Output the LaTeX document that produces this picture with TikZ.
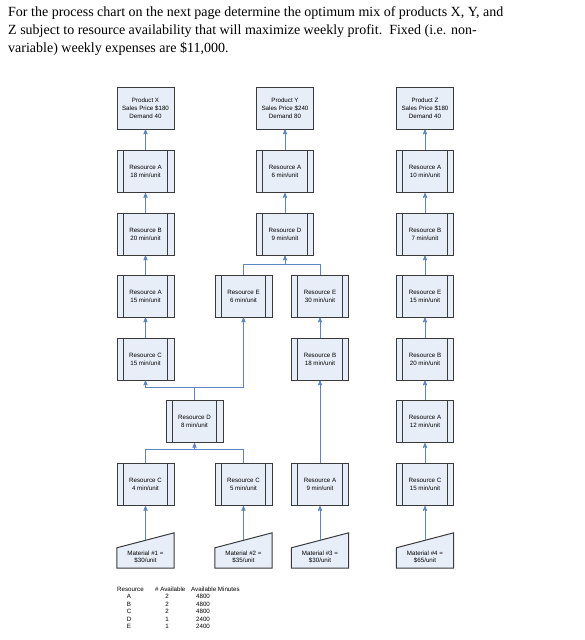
\documentclass[tikz,border=0pt]{standalone}
\usepackage{fontspec}
\setmainfont{Liberation Serif}
\setsansfont{Liberation Sans}
\usetikzlibrary{arrows,calc,backgrounds,positioning}
\tikzset{>=angle 60}

\definecolor{boxfill}{HTML}{E8EEF8}
\definecolor{boxedge}{HTML}{3A3A3A}
\definecolor{flowblue}{HTML}{5B86C5}
\newcommand{\boxfont}{\sffamily\fontsize{6.2}{7.8}\selectfont}

\begin{document}
\begin{tikzpicture}[
        x=1pt, y=-1pt,
        >=stealth',
        flow/.style = {draw=flowblue, ->, line width=0.8pt},
        junc/.style = {draw=flowblue, line width=0.8pt},
        matflow/.style = {flow, shorten <=5.5pt},
        prod/.style = {draw=boxedge, fill=boxfill, line width=1pt, rectangle,
                       minimum width=57pt, minimum height=42pt, inner sep=0pt,
                       align=center, font=\boxfont},
        res/.style = {prod},
        bar/.style = {draw=boxedge, line width=0.8pt},
        mat/.style = {rectangle, minimum width=57pt, minimum height=22pt,
                      inner sep=0pt, align=center, font=\boxfont},
        para/.style = {anchor=base west, inner sep=0pt, font=\fontsize{14}{18}\selectfont},
        tab/.style = {inner sep=0pt, font=\boxfont}]

    \useasboundingbox (0,0) rectangle (584,640);

    % columns
    \def\cx{145.5}
    \def\cd{194.5}
    \def\ce{243.5}
    \def\cy{285}
    \def\cf{320}
    \def\cz{425}

    \node (l1) at (8,16) [para] {For the process chart on the next page determine the optimum mix of products X, Y, and};
    \node (l2) at (8,34) [para] {Z subject to resource availability that will maximize weekly profit.\ \ Fixed (i.e. non-};
    \node (l3) at (8,52) [para] {variable) weekly expenses are \$11,000.};

    % products
    \node (px) at (\cx,108) [prod] {Product X\\Sales Price \$180\\Demand 40};
    \node (py) at (\cy,108) [prod] {Product Y\\Sales Price \$240\\Demand 80};
    \node (pz) at (\cz,108) [prod] {Product Z\\Sales Price \$180\\Demand 40};

    % resources
    \node (xa1) at (\cx,171.5) [res] {Resource A\\18 min/unit};
    \node (ya)  at (\cy,171.5) [res] {Resource A\\6 min/unit};
    \node (za1) at (\cz,171.5) [res] {Resource A\\10 min/unit};

    \node (xb)  at (\cx,234) [res] {Resource B\\20 min/unit};
    \node (yd)  at (\cy,234) [res] {Resource D\\9 min/unit};
    \node (zb1) at (\cz,234) [res] {Resource B\\7 min/unit};

    \node (xa2) at (\cx,296) [res] {Resource A\\15 min/unit};
    \node (ye1) at (\ce,296) [res] {Resource E\\6 min/unit};
    \node (ye2) at (\cf,296) [res] {Resource E\\30 min/unit};
    \node (ze)  at (\cz,296) [res] {Resource E\\15 min/unit};

    \node (xc1) at (\cx,359) [res] {Resource C\\15 min/unit};
    \node (yb)  at (\cf,359) [res] {Resource B\\18 min/unit};
    \node (zb2) at (\cz,359) [res] {Resource B\\20 min/unit};

    \node (dd)  at (\cd,421.5) [res] {Resource D\\8 min/unit};
    \node (za2) at (\cz,421.5) [res] {Resource A\\12 min/unit};

    \node (xc2) at (\cx,484.5) [res] {Resource C\\4 min/unit};
    \node (yc)  at (\ce,484.5) [res] {Resource C\\5 min/unit};
    \node (ya2) at (\cf,484.5) [res] {Resource A\\9 min/unit};
    \node (zc)  at (\cz,484.5) [res] {Resource C\\15 min/unit};

    % side bars of the resource boxes
    \foreach \n in {xa1,ya,za1,xb,yd,zb1,xa2,ye1,ye2,ze,xc1,yb,zb2,dd,za2,xc2,yc,ya2,zc}
        {
            \draw[bar] ($(\n.north west)+(6.7,0)$) -- ($(\n.south west)+(6.7,0)$);
            \draw[bar] ($(\n.north east)+(-7,0)$) -- ($(\n.south east)+(-7,0)$);
        }

    % materials
    \node (m1) at (\cx,557) [mat] {Material \#1 =\\\$30/unit};
    \node (m2) at (\ce,557) [mat] {Material \#2 =\\\$35/unit};
    \node (m3) at (\cf,557) [mat] {Material \#3 =\\\$30/unit};
    \node (m4) at (\cz,557) [mat] {Material \#4 =\\\$65/unit};
    \begin{scope}[on background layer]
        \foreach \m in {m1,m2,m3,m4}
            \draw[boxedge, fill=boxfill, line width=1pt] (\m.south west) -- (\m.south east)
                -- ($(\m.north east)+(0,-13)$) -- ($(\m.north west)+(0,2)$) -- cycle;
    \end{scope}

    \path (xa1) edge [flow] (px)
          (xb) edge [flow] (xa1)
          (xa2) edge [flow] (xb)
          (xc1) edge [flow] (xa2)
          (m1) edge [matflow] (xc2);
    \path (ya) edge [flow] (py)
          (yd) edge [flow] (ya)
          (yb) edge [flow] (ye2)
          (ya2) edge [flow] (yb)
          (m2) edge [matflow] (yc)
          (m3) edge [matflow] (ya2);
    \path (za1) edge [flow] (pz)
          (zb1) edge [flow] (za1)
          (ze) edge [flow] (zb1)
          (zb2) edge [flow] (ze)
          (za2) edge [flow] (zb2)
          (zc) edge [flow] (za2)
          (m4) edge [matflow] (zc);

    % branching lines
    \coordinate (j1) at (\cy,264);
    \coordinate (j2) at (\cd,387);
    \coordinate (j3) at (\cd,449);
    \draw[flow] (ye1) |- (j1) -- (yd);
    \draw[junc] (ye2) |- (j1);
    \draw[flow] (dd) -- (j2) -| (xc1);
    \draw[flow] (j2) -| (ye1);
    \draw[flow] (xc2) |- (j3) -- (dd);
    \draw[junc] (yc) |- (j3);

    % availability table
    \node (th1) at (117,591) [tab, anchor=base west] {Resource};
    \node (th2) at (155,591) [tab, anchor=base west] {\# Available};
    \node (th3) at (191,591) [tab, anchor=base west] {Available Minutes};
    \foreach \r/\n/\v [count=\k] in {A/2/4800,B/2/4800,C/2/4800,D/1/2400,E/1/2400}
        {
            \node (r\k) at (129,591+7.5*\k) [tab, anchor=base] {\r};
            \node (n\k) at (167,591+7.5*\k) [tab, anchor=base] {\n};
            \node (v\k) at (203,591+7.5*\k) [tab, anchor=base] {\v};
        }

\end{tikzpicture}
\end{document}
